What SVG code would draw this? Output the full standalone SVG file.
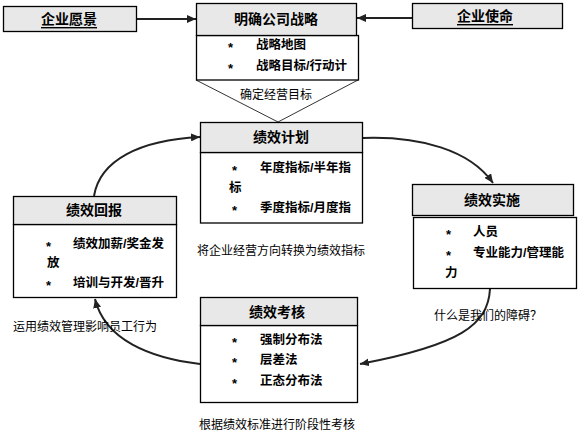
<svg xmlns="http://www.w3.org/2000/svg" width="579" height="437" viewBox="0 0 579 437">
<style>
text{font-family:"Liberation Sans","Noto Sans CJK SC",sans-serif;fill:#000}
.hd{fill:#e8e8e8;stroke:#000;stroke-width:1.3}
.bd{fill:#fff;stroke:#000;stroke-width:1.3}
.ht{font-size:14px;font-weight:bold;text-anchor:middle;dominant-baseline:central}
.u{text-decoration:underline}
.bt{font-size:12.5px;font-weight:bold;dominant-baseline:central}
.st{font-size:13px;font-weight:bold}
.cap{font-size:12px;text-anchor:middle;dominant-baseline:central}
.con{fill:none;stroke:#222;stroke-width:2}
</style>
<defs>
<marker id="ah" markerUnits="userSpaceOnUse" markerWidth="10" markerHeight="8" refX="9" refY="4" orient="auto">
<path d="M0,0 L9,4 L0,8 Z" fill="#222"/>
</marker>
</defs>
<g id="connectors">
<line class="con" x1="137" y1="19" x2="196" y2="19" marker-end="url(#ah)"/>
<line class="con" x1="412" y1="18" x2="357" y2="18" marker-end="url(#ah)"/>
<polyline points="196,80 278,122 358,80" fill="none" stroke="#333" stroke-width="1"/>
<path class="con" d="M363,138 C420,136 470,150 493,183" marker-end="url(#ah)"/>
<path class="con" d="M490,289 C488,325 460,345 360,364" marker-end="url(#ah)"/>
<path class="con" d="M200,364 C150,358 105,340 95,299" marker-end="url(#ah)"/>
<path class="con" d="M94,196 C100,160 140,140 200,137" marker-end="url(#ah)"/>
</g>
<g id="vision">
<rect class="hd" x="3.5" y="6.5" width="133" height="25"/>
<text class="ht u" x="69" y="19">企业愿景</text>
</g>
<g id="strategy">
<rect class="bd" x="196.5" y="35.5" width="162" height="44.5"/>
<rect class="hd" x="196.5" y="3.5" width="160" height="32"/>
<text class="ht" x="276" y="19">明确公司战略</text>
<text class="st" x="228" y="52">*</text>
<text class="bt" x="256" y="45">战略地图</text>
<text class="st" x="228" y="73">*</text>
<text class="bt" x="256" y="66">战略目标/行动计</text>
</g>
<g id="mission">
<rect class="hd" x="412.5" y="3.5" width="150" height="25"/>
<text class="ht u" x="485" y="16">企业使命</text>
</g>
<text class="cap" x="276" y="95">确定经营目标</text>
<g id="plan">
<rect class="bd" x="200.5" y="152.5" width="162" height="70.5"/>
<rect class="hd" x="200.5" y="122.5" width="162" height="30"/>
<text class="ht" x="281" y="137">绩效计划</text>
<text class="st" x="232" y="175">*</text>
<text class="bt" x="260" y="168">年度指标/半年指</text>
<text class="bt" x="229" y="188">标</text>
<text class="st" x="232" y="215">*</text>
<text class="bt" x="260" y="208">季度指标/月度指</text>
<text class="cap" x="281" y="251">将企业经营方向转换为绩效指标</text>
</g>
<g id="implement">
<rect class="hd" x="412.5" y="184.5" width="161" height="31"/>
<rect class="bd" x="413.5" y="217.5" width="163" height="71"/>
<text class="ht" x="492" y="200">绩效实施</text>
<text class="st" x="446" y="239">*</text>
<text class="bt" x="473" y="232">人员</text>
<text class="st" x="446" y="260">*</text>
<text class="bt" x="473" y="253">专业能力/管理能</text>
<text class="bt" x="445" y="273">力</text>
<text class="cap" x="488" y="316">什么是我们的障碍？</text>
</g>
<g id="appraisal">
<rect class="bd" x="200.5" y="325.5" width="157" height="77"/>
<rect class="hd" x="200.5" y="297.5" width="157" height="28"/>
<text class="ht" x="277" y="312">绩效考核</text>
<text class="st" x="232" y="347">*</text>
<text class="bt" x="260" y="340">强制分布法</text>
<text class="st" x="232" y="367">*</text>
<text class="bt" x="260" y="360">层差法</text>
<text class="st" x="232" y="388">*</text>
<text class="bt" x="260" y="381">正态分布法</text>
<text class="cap" x="277" y="425">根据绩效标准进行阶段性考核</text>
</g>
<g id="reward">
<rect class="bd" x="13.5" y="224.5" width="163" height="73"/>
<rect class="hd" x="13.5" y="196.5" width="163" height="28"/>
<text class="ht" x="94" y="210">绩效回报</text>
<text class="st" x="46" y="251">*</text>
<text class="bt" x="73" y="244">绩效加薪/奖金发</text>
<text class="bt" x="47" y="263">放</text>
<text class="st" x="46" y="290">*</text>
<text class="bt" x="73" y="283">培训与开发/晋升</text>
<text class="cap" x="85" y="327">运用绩效管理影响员工行为</text>
</g>
</svg>
